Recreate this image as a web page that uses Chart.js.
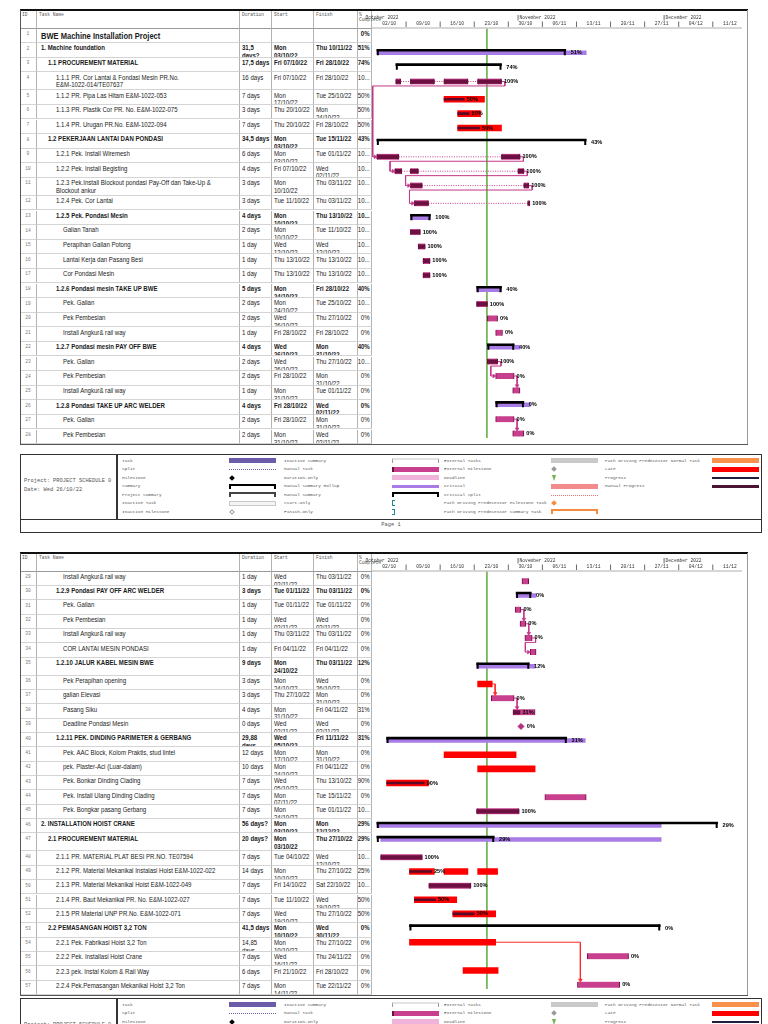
<!DOCTYPE html>
<html>
<head>
<meta charset="utf-8">
<title>BWE Machine Installation Project</title>
<script src="https://cdn.jsdelivr.net/npm/chart.js@4.4.1/dist/chart.umd.min.js"></script>
<style>
  html, body { margin: 0; padding: 0; background: #fff; }
  body { width: 768px; height: 1024px; overflow: hidden; position: relative; font-family: "Liberation Sans", Arial, sans-serif; }
  .a { position: absolute; box-sizing: border-box; }
  .cell { position: absolute; box-sizing: border-box; overflow: hidden; border-right: 1px solid #b4b4b4; border-bottom: 1px solid #d4d4d4; font-size: 7.4px; line-height: 7.8px; color: #1a1a1a; }
  .cell .in { position: absolute; top: 1.3px; transform: scaleX(0.82); transform-origin: 0 0; }
  .cell .in.r { transform-origin: 100% 0; text-align: right; white-space: nowrap; }
  .nw { white-space: nowrap; }
  .hd { font-family: "Liberation Mono", monospace; font-size: 4.6px; line-height: 5px; color: #555; border-bottom: 1px solid #999; padding: 1.5px 1px 0 2px; }
  .idc { font-family: "Liberation Mono", monospace; font-size: 4.6px; color: #777; text-align: center; padding-top: 1.5px; }
  .b { font-weight: bold; }
  .lg { position: absolute; font-family: "Liberation Mono", monospace; font-size: 4.4px; color: #555; white-space: nowrap; }
</style>
</head>
<body>
<script>
// task table (ID = position + 1)
var taskNames = [
  'BWE Machine Installation Project',
  '1. Machine foundation',
  '1.1 PROCUREMENT MATERIAL',
  '1.1.1 PR. Cor Lantai & Fondasi Mesin  PR.No. E&M-1022-014/TE07637',
  '1.1.2 PR. Pipa Las Hitam  E&M-1022-053',
  '1.1.3 PR. Plastik Cor PR. No. E&M-1022-075',
  '1.1.4 PR. Urugan PR.No. E&M-1022-094',
  '1.2 PEKERJAAN LANTAI DAN PONDASI',
  '1.2.1 Pek. Install Wiremesh',
  '1.2.2 Pek. Install Begisting',
  '1.2.3 Pek.Install Blockout pondasi  Pay-Off dan Take-Up & Blockout ankur',
  '1.2.4 Pek. Cor Lantai',
  '1.2.5 Pek. Pondasi Mesin',
  'Galian Tanah',
  'Perapihan Galian Potong',
  'Lantai Kerja dan Pasang Besi',
  'Cor Pondasi Mesin',
  '1.2.6 Pondasi mesin TAKE UP BWE',
  'Pek. Galian',
  'Pek Pembesian',
  'Install Angkur& rail way',
  '1.2.7 Pondasi mesin PAY OFF BWE',
  'Pek. Galian',
  'Pek Pembesian',
  'Install Angkur& rail way',
  '1.2.8 Pondasi TAKE UP ARC WELDER',
  'Pek. Galian',
  'Pek Pembesian',
  'Install Angkur& rail way',
  '1.2.9 Pondasi PAY OFF ARC WELDER',
  'Pek. Galian',
  'Pek Pembesian',
  'Install Angkur& rail way',
  'COR LANTAI MESIN PONDASI',
  '1.2.10 JALUR KABEL MESIN BWE',
  'Pek Perapihan opening',
  'galian Elevasi',
  'Pasang Siku',
  'Deadline Pondasi Mesin',
  '1.2.11 PEK. DINDING PARIMETER & GERBANG',
  'Pek. AAC Block, Kolom Praktis, stud lintel',
  'pek. Plaster-Aci (Luar-dalam)',
  'Pek. Bonkar Dinding Clading',
  'Pek. Install Ulang Dinding Clading',
  'Pek. Bongkar pasang Gerbang',
  '2. INSTALLATION HOIST CRANE',
  '2.1 PROCUREMENT MATERIAL',
  '2.1.1 PR. MATERIAL  PLAT BESI  PR.NO. TE07594',
  '2.1.2 PR. Material Mekanikal Instalasi Hoist E&M-1022-022',
  '2.1.3 PR. Material Mekanikal Hoist E&M-1022-049',
  '2.1.4 PR. Baut Mekanikal PR. No. E&M-1022-027',
  '2.1.5 PR Material UNP PR.No. E&M-1022-071',
  '2.2 PEMASANGAN HOIST 3,2 TON',
  '2.2.1 Pek. Fabrikasi Hoist 3,2 Ton',
  '2.2.2 Pek. Installasi Hoist Crane',
  '2.2.3 pek. Instal Kolom & Rail Way',
  '2.2.4 Pek.Pemasangan Mekanikal Hoist 3,2 Ton'
];
var outlineLevels = [0,1,2,3,3,3,3,2,3,3, 3,3,3,4,4,4,4,3,4,4, 4,3,4,4,4,3,4,4,4,3,
                     4,4,4,4,3,4,4,4,4,3, 4,4,4,4,4,1,2,3,3,3, 3,3,2,3,3,3,3];
var durations = ['', '31,5 days?', '17,5 days', '16 days', '7 days', '3 days', '7 days', '34,5 days', '6 days', '4 days',
  '3 days', '3 days', '4 days', '2 days', '1 day', '1 day', '1 day', '5 days', '2 days', '2 days',
  '1 day', '4 days', '2 days', '2 days', '1 day', '4 days', '2 days', '2 days', '1 day', '3 days',
  '1 day', '1 day', '1 day', '1 day', '9 days', '3 days', '3 days', '4 days', '0 days', '29,88 days',
  '12 days', '10 days', '7 days', '7 days', '7 days', '56 days?', '20 days?', '7 days', '14 days', '7 days',
  '7 days', '7 days', '41,5 days', '14,85 days', '7 days', '6 days', '7 days'];
var startDates = ['', 'Mon 03/10/22', 'Fri 07/10/22', 'Fri 07/10/22', 'Mon 17/10/22', 'Thu 20/10/22', 'Thu 20/10/22', 'Mon 03/10/22', 'Mon 03/10/22', 'Fri 07/10/22',
  'Mon 10/10/22', 'Tue 11/10/22', 'Mon 10/10/22', 'Mon 10/10/22', 'Wed 12/10/22', 'Thu 13/10/22', 'Thu 13/10/22', 'Mon 24/10/22', 'Mon 24/10/22', 'Wed 26/10/22',
  'Fri 28/10/22', 'Wed 26/10/22', 'Wed 26/10/22', 'Fri 28/10/22', 'Mon 31/10/22', 'Fri 28/10/22', 'Fri 28/10/22', 'Mon 31/10/22', 'Wed 02/11/22', 'Tue 01/11/22',
  'Tue 01/11/22', 'Wed 02/11/22', 'Thu 03/11/22', 'Fri 04/11/22', 'Mon 24/10/22', 'Mon 24/10/22', 'Thu 27/10/22', 'Mon 31/10/22', 'Wed 02/11/22', 'Wed 05/10/22',
  'Mon 17/10/22', 'Mon 24/10/22', 'Wed 05/10/22', 'Mon 07/11/22', 'Mon 24/10/22', 'Mon 03/10/22', 'Mon 03/10/22', 'Tue 04/10/22', 'Mon 10/10/22', 'Fri 14/10/22',
  'Tue 11/10/22', 'Wed 19/10/22', 'Mon 10/10/22', 'Mon 10/10/22', 'Wed 16/11/22', 'Fri 21/10/22', 'Mon 14/11/22'];
var finishDates = ['', 'Thu 10/11/22', 'Fri 28/10/22', 'Fri 28/10/22', 'Tue 25/10/22', 'Mon 24/10/22', 'Fri 28/10/22', 'Tue 15/11/22', 'Tue 01/11/22', 'Wed 02/11/22',
  'Thu 03/11/22', 'Thu 03/11/22', 'Thu 13/10/22', 'Tue 11/10/22', 'Wed 12/10/22', 'Thu 13/10/22', 'Thu 13/10/22', 'Fri 28/10/22', 'Tue 25/10/22', 'Thu 27/10/22',
  'Fri 28/10/22', 'Mon 31/10/22', 'Thu 27/10/22', 'Mon 31/10/22', 'Tue 01/11/22', 'Wed 02/11/22', 'Mon 31/10/22', 'Wed 02/11/22', 'Thu 03/11/22', 'Thu 03/11/22',
  'Tue 01/11/22', 'Wed 02/11/22', 'Thu 03/11/22', 'Fri 04/11/22', 'Thu 03/11/22', 'Wed 26/10/22', 'Mon 31/10/22', 'Fri 04/11/22', 'Wed 02/11/22', 'Fri 11/11/22',
  'Mon 31/10/22', 'Fri 04/11/22', 'Thu 13/10/22', 'Tue 15/11/22', 'Tue 01/11/22', 'Mon 12/12/22', 'Thu 27/10/22', 'Wed 12/10/22', 'Thu 27/10/22', 'Sat 22/10/22',
  'Wed 19/10/22', 'Thu 27/10/22', 'Wed 30/11/22', 'Thu 27/10/22', 'Thu 24/11/22', 'Fri 28/10/22', 'Tue 22/11/22'];
var percentComplete = ['0%', '51%', '74%', '10...', '50%', '50%', '50%', '43%', '10...', '10...',
  '10...', '10...', '10...', '10...', '10...', '10...', '10...', '40%', '10...', '0%',
  '0%', '40%', '10...', '0%', '0%', '0%', '0%', '0%', '0%', '0%',
  '0%', '0%', '0%', '0%', '12%', '0%', '0%', '31%', '0%', '31%',
  '0%', '0%', '90%', '0%', '10...', '29%', '29%', '10...', '25%', '10...',
  '50%', '50%', '0%', '0%', '0%', '0%', '0%'];
var boldTasks = [1, 2, 3, 8, 13, 18, 22, 26, 30, 35, 40, 46, 47, 53];
var tallRows = [4, 11, 35, 47];

// gantt bars, in days counted from Sun 02/10/22
var barKinds = ['none','sum','sum','task','late','late','late','sum','task','task',
  'task','task','sum','task','task','task','task','sum','task','task',
  'task','sum','task','task','task','sum','task','task','task','sum',
  'task','task','task','task','sum','late','task','task','ms','sum',
  'late','late','late','task','task','sum','sum','task','late','task',
  'late','late','sum','late','task','late','task'];
var barSpans = [
  [], [[1, 39.8]], [[4.9, 26.6]], [[4.9, 5.9], [7.9, 12.8], [14.8, 19.7], [21.7, 26.6]], [[14.8, 23.1]],
  [[17.6, 22.3]], [[17.6, 26.6]], [[1, 44]], [[1, 5.5], [26.6, 30.4]], [[4.7, 6.1], [7.9, 9.5], [30, 31.2]],
  [[7.9, 10.3], [31.2, 32.2]], [[8.7, 11.6], [32, 32.4]], [[7.9, 12]], [[7.9, 9.9]], [[9.5, 10.9]],
  [[10.5, 11.9]], [[10.5, 11.9]], [[21.5, 26.6]], [[21.5, 23.7]], [[23.7, 25.8]],
  [[25.4, 26.8]], [[23.7, 29.2]], [[23.7, 25.8]], [[25.4, 29.2]], [[28.9, 30.4]],
  [[25.4, 31.2]], [[25.4, 29.2]], [[28.9, 31.2]], [[30.8, 32.2]], [[29.6, 32.7]],
  [[29.4, 30.6]], [[30.4, 31.6]], [[31.4, 32.9]], [[32.5, 33.7]], [[21.5, 32.3]],
  [[21.7, 24.7]], [[24.5, 29.2]], [[29, 33.5]], [[30.6, 30.6]], [[3, 40]],
  [[14.8, 29.6]], [[21.7, 33.5]], [[3, 11.6]], [[35.5, 44]], [[21.5, 30.2]],
  [[1, 71]], [[1, 25.1]], [[1.8, 10.3]], [[7.7, 12.8], [14.8, 19.7], [21.7, 25.8]], [[11.7, 20.3]],
  [[8.7, 17.4]], [[16.6, 25.4]], [[7.7, 59.2]], [[7.7, 25.4]], [[44.2, 52.7]],
  [[18.7, 25.9]], [[42.2, 50.9]]
];
var rollupSpans = [
  null, [1, 44], null, null, null, null, null, null, null, null,
  null, null, [7.9, 12], null, null, null, null, [21.5, 26.6], null, null,
  null, [23.7, 30.4], null, null, null, [25.4, 32.5], null, null, null, [29.6, 33.7],
  null, null, null, null, [21.5, 33.5], null, null, null, null, [3, 43.8],
  null, null, null, null, null, [1, 59.4], [1.8, 59.4], null, null, null,
  null, null, null, null, null, null, null
];
var barLabels = ['', '51%', '74%', '100%', '50%', '50%', '50%', '43%', '100%', '100%',
  '100%', '100%', '100%', '100%', '100%', '100%', '100%', '40%', '100%', '0%',
  '0%', '40%', '100%', '0%', '', '0%', '0%', '0%', '', '0%',
  '0%', '0%', '0%', '', '12%', '', '0%', '31%', '0%', '31%',
  '', '', '90%', '', '100%', '29%', '29%', '100%', '25%', '100%',
  '50%', '50%', '0%', '', '0%', '', '0%'];
var taskLinks = [[4, 9], [9, 10], [10, 11], [11, 12], [23, 24], [24, 25], [27, 28],
  [31, 32], [32, 33], [33, 34], [36, 37], [37, 38], [54, 57]];

// timescale
var weekStartDays = [0, 7, 14, 21, 28, 35, 42, 49, 56, 63, 70];
var weekLabels = ['02/10', '09/10', '16/10', '23/10', '30/10', '06/11', '13/11', '20/11', '27/11', '04/12', '11/12'];
var monthStartDays = [-1, 30, 60];
var monthLabels = ['October 2022', 'November 2022', 'December 2022'];
var statusDay = 23.6;

var pages = [
  { first: 1, last: 28, top: 10, rowH: 14.6, legendTop: 454, label: 'Page 1' },
  { first: 29, last: 57, top: 553, rowH: 14.35, legendTop: 998, label: 'Page 2' }
];

var COLS = [{ x: 20, w: 17 }, { x: 37, w: 203 }, { x: 240, w: 32 }, { x: 272, w: 42 }, { x: 314, w: 44 }, { x: 358, w: 14 }];
var HEADER_H = 18.5, TALL_H = 18, BAR_OFF = 10, SQUEEZE = 0.82;
var INDENT = [4, 4, 11, 19, 26];
var MAGENTA = '#c8408d', DARK = '#6c0f41', LINK = '#c4378a';

function addDiv(cls, css, html, parent) {
  var d = document.createElement('div');
  d.className = cls;
  d.style.cssText = css;
  if (html != null) d.innerHTML = html;
  (parent || document.body).appendChild(d);
  return d;
}
function esc(s) { return s.replace(/&/g, '&amp;').replace(/</g, '&lt;'); }
function nameHtml(s) {
  // keep hyphenated codes in one piece, as the printed table does
  return s.split(' ').map(function (w) { return w.indexOf('-') >= 0 ? '<span class="nw">' + esc(w) + '</span>' : esc(w); }).join(' ');
}
function dateHtml(s) { return /^(Mon|Wed) /.test(s) ? s.replace(' ', '<br>') : s; }
function durHtml(s) { return s.length >= 10 ? s.replace(' ', '<br>') : s; }
function pctValue(i) { var t = percentComplete[i]; return t.indexOf('...') > 0 ? 100 : parseFloat(t); }
function isTall(id) { return tallRows.indexOf(id) >= 0; }

function buildTable(pg) {
  var hd = ['ID', 'Task Name', 'Duration', 'Start', 'Finish', '%<br>Complete'];
  COLS.forEach(function (c, k) {
    addDiv('cell hd', 'left:' + c.x + 'px;top:' + pg.top + 'px;width:' + c.w + 'px;height:' + HEADER_H + 'px;' +
      (k == 5 ? 'overflow:visible;padding-left:1px;' : ''), hd[k]);
  });
  var y = pg.top + HEADER_H;
  for (var id = pg.first; id <= pg.last; id++) {
    var i = id - 1;
    var h = isTall(id) ? TALL_H : pg.rowH;
    var bold = boldTasks.indexOf(id) >= 0 ? ' b' : '';
    var vals = [String(id), nameHtml(taskNames[i]), durHtml(durations[i]), dateHtml(startDates[i]), dateHtml(finishDates[i]), percentComplete[i]];
    for (var k = 0; k < COLS.length; k++) {
      var c = COLS[k];
      var css = 'left:' + c.x + 'px;top:' + y + 'px;width:' + c.w + 'px;height:' + h + 'px;';
      if (k == 0) { addDiv('cell idc', css, vals[k]); continue; }
      var cell = addDiv('cell' + bold, css);
      if (k == 5) {
        addDiv('in r', 'right:1.5px;width:' + ((c.w - 2) / SQUEEZE) + 'px;', vals[k], cell);
      } else {
        var pad = k == 1 ? INDENT[outlineLevels[i]] : 2;
        var padR = k == 1 ? 14 : 2;
        var inCss = 'left:' + pad + 'px;width:' + ((c.w - pad - padR) / SQUEEZE) + 'px;';
        if (k > 1 && vals[k].indexOf('<br>') < 0) inCss += 'white-space:nowrap;';
        if (id == 1 && k == 1) inCss += 'font-size:9.2px;line-height:10px;top:2px;white-space:nowrap;';
        addDiv('in', inCss, vals[k], cell);
      }
    }
    y += h;
  }
  // frame
  addDiv('a', 'left:20px;top:' + (pg.top - 1) + 'px;width:728px;height:2px;background:#111;');
  addDiv('a', 'left:20px;top:' + pg.top + 'px;width:1px;height:' + (y - pg.top) + 'px;background:#555;');
  addDiv('a', 'left:747px;top:' + pg.top + 'px;width:1px;height:' + (y - pg.top) + 'px;background:#999;');
  addDiv('a', 'left:20px;top:' + y + 'px;width:728px;height:1.2px;background:#555;');
  return y;
}

function legendSymbol(kind, color, x, cy) {
  var w = 47, left = x, s;
  if (kind == 'bar') s = 'top:' + (cy - 2.5) + 'px;width:' + w + 'px;height:5px;background:' + color + ';';
  else if (kind == 'mbar') s = 'top:' + (cy - 2.5) + 'px;width:' + w + 'px;height:5px;background:' + color + ';border-left:2px solid ' + DARK + ';';
  else if (kind == 'obar') s = 'top:' + (cy - 2.5) + 'px;width:' + w + 'px;height:5px;background:#f4f4f4;border:1px solid #c8c8c8;';
  else if (kind == 'thin') s = 'top:' + (cy - 1.5) + 'px;width:' + w + 'px;height:3px;background:' + color + ';';
  else if (kind == 'line') s = 'top:' + (cy - 1) + 'px;width:' + w + 'px;height:2.5px;background:' + color + ';';
  else if (kind == 'dots') s = 'top:' + cy + 'px;width:' + w + 'px;height:0;border-top:1.5px dotted ' + color + ';';
  else if (kind == 'bracket') s = 'top:' + (cy - 2.5) + 'px;width:' + w + 'px;height:5px;border:2px solid ' + color + ';border-bottom:0;';
  else if (kind == 'ibracket') s = 'top:' + (cy - 2.5) + 'px;width:' + w + 'px;height:5px;border:1.5px solid #999;border-bottom:0;border-top:2.5px solid #e4e4e4;';
  else if (kind == 'diamond') { left = x + 1; s = 'top:' + (cy - 2) + 'px;width:4px;height:4px;background:' + color + ';transform:rotate(45deg);'; }
  else if (kind == 'odiamond') { left = x + 1; s = 'top:' + (cy - 2) + 'px;width:4px;height:4px;border:0.8px solid ' + color + ';transform:rotate(45deg);'; }
  else if (kind == 'start') s = 'top:' + (cy - 3) + 'px;width:3px;height:6px;border:1.5px solid ' + color + ';border-right:0;';
  else if (kind == 'finish') s = 'top:' + (cy - 3) + 'px;width:3px;height:6px;border:1.5px solid ' + color + ';border-left:0;';
  else if (kind == 'arrow') { left = x + 1; s = 'top:' + (cy - 3) + 'px;width:0;height:0;border-left:2.5px solid transparent;border-right:2.5px solid transparent;border-top:6px solid ' + color + ';'; }
  addDiv('a', 'left:' + left + 'px;' + s);
}

function buildLegend(top, pageLabel) {
  var cols = [
    [['Task', 'bar', '#6b5ba9'], ['Split', 'dots', '#6b5ba9'], ['Milestone', 'diamond', '#000'], ['Summary', 'bracket', '#000'],
     ['Project Summary', 'bracket', '#444'], ['Inactive Task', 'obar', ''], ['Inactive Milestone', 'odiamond', '#999']],
    [['Inactive Summary', 'ibracket', ''], ['Manual Task', 'mbar', MAGENTA], ['Duration-only', 'bar', '#f0b3d9'], ['Manual Summary Rollup', 'thin', '#a97be6'],
     ['Manual Summary', 'bracket', '#000'], ['Start-only', 'start', '#178c9a'], ['Finish-only', 'finish', '#178c9a']],
    [['External Tasks', 'bar', '#c9c9c9'], ['External Milestone', 'diamond', '#9a9a9a'], ['Deadline', 'arrow', '#6fb24f'], ['Critical', 'bar', '#f28b8b'],
     ['Critical Split', 'dots', '#e87777'], ['Path Driving Predecessor Milestone Task', 'diamond', '#f58b3c'], ['Path Driving Predecessor Summary Task', 'bracket', '#f58b3c']],
    [['Path Driving Predecessor Normal Task', 'bar', '#f8914b'], ['Late', 'bar', '#ff0000'], ['Progress', 'line', '#1e1f3e'], ['Manual Progress', 'line', '#4b1432']]
  ];
  var legX = [[122, 229], [284, 392], [444, 551], [605, 712]];
  addDiv('a', 'left:20px;top:' + top + 'px;width:742px;height:66px;border:1.5px solid #333;');
  addDiv('a', 'left:116px;top:' + top + 'px;width:1.5px;height:66px;background:#333;');
  addDiv('lg', 'left:24px;top:' + (top + 23) + 'px;font-size:5.4px;line-height:9px;', 'Project: PROJECT SCHEDULE 0<br>Date: Wed 26/10/22');
  cols.forEach(function (col, c) {
    col.forEach(function (it, r) {
      var cy = top + 6.5 + r * 8.5;
      addDiv('lg', 'left:' + legX[c][0] + 'px;top:' + (cy - 3) + 'px;line-height:6px;', it[0]);
      legendSymbol(it[1], it[2], legX[c][1], cy);
    });
  });
  addDiv('a', 'left:20px;top:' + (top + 64.5) + 'px;width:742px;height:14.5px;border:1.5px solid #333;');
  addDiv('lg', 'left:20px;top:' + (top + 65) + 'px;width:742px;line-height:13px;text-align:center;font-size:5.4px;', pageLabel);
}

function buildChart(pg) {
  var ids = [], tops = {}, y = 0;
  for (var id = pg.first; id <= pg.last; id++) { ids.push(id); tops[id] = y; y += isTall(id) ? TALL_H : pg.rowH; }
  var canvas = document.createElement('canvas');
  canvas.width = 392;
  canvas.height = Math.round(HEADER_H + y);
  canvas.style.cssText = 'position:absolute;left:356px;top:' + pg.top + 'px;width:392px;height:' + canvas.height + 'px;';
  document.body.appendChild(canvas);
  var yMax = canvas.height - HEADER_H;
  function cy(id) { return tops[id] + BAR_OFF; }
  function firstStart(id) { return barSpans[id - 1][0][0]; }
  function lastEnd(id) { var s = barSpans[id - 1]; return s[s.length - 1][1]; }

  var rollup = [], bracket = [], caps = [], tasks = [], taskProg = [], late = [], lateProg = [], miles = [], labels = [];
  var extra = [], arrowsDown = [], arrowsRight = [], arrowDownCol = [], arrowRightCol = [];

  ids.forEach(function (id) {
    var i = id - 1, kind = barKinds[i], spans = barSpans[i], c = cy(id);
    if (!spans.length) return;
    var s0 = spans[0][0], e1 = spans[spans.length - 1][1];
    var pct = pctValue(i);
    var pEnd = s0 + (e1 - s0) * pct / 100;
    var labelDay;
    if (kind == 'sum') {
      bracket.push({ x: [s0, e1], y: c - 2.5 });
      caps.push({ x: s0 + 0.2, y: c - 0.5 }, { x: e1 - 0.2, y: c - 0.5 });
      if (rollupSpans[i]) rollup.push({ x: rollupSpans[i], y: c });
      labelDay = e1 + 1;
    } else if (kind == 'ms') {
      miles.push({ x: s0, y: c });
      labelDay = s0 + 1.2;
    } else {
      var main = kind == 'late' ? late : tasks;
      var prog = kind == 'late' ? lateProg : taskProg;
      spans.forEach(function (sp, k) {
        main.push({ x: sp, y: c });
        if (pct > 0 && sp[0] < pEnd) prog.push({ x: [sp[0], Math.min(sp[1], pEnd)], y: c });
        if (k > 0 && kind == 'task') {
          extra.push({ type: 'line', data: [{ x: spans[k - 1][1], y: c }, { x: sp[0], y: c }], borderColor: MAGENTA,
            borderWidth: 1, borderDash: [1, 1.4], pointRadius: 0, order: 8 });
        }
      });
      labelDay = (pct > 0 ? pEnd : e1) + 0.5;
    }
    if (barLabels[i]) labels.push({ x: labelDay, y: c, t: barLabels[i] });
  });

  taskLinks.forEach(function (lk) {
    var p = lk[0], s = lk[1];
    if (!(p in tops) || !(s in tops)) return;
    var pe = lastEnd(p), ss = firstStart(s), yp = cy(p), ys = cy(s);
    var col = barKinds[p - 1] == 'late' ? '#ff2a2a' : LINK;
    var pts;
    if (ss >= pe - 0.3) {
      var xv = Math.max(pe, ss) + 0.6;
      pts = [{ x: pe, y: yp }, { x: xv, y: yp }, { x: xv, y: ys - 5 }];
      arrowsDown.push({ x: xv, y: ys - 4.6 }); arrowDownCol.push(col);
    } else {
      var yb = yp + 4.5, xb = Math.max(ss - 1, 0.15);
      pts = [{ x: pe, y: yp }, { x: pe + 0.7, y: yp }, { x: pe + 0.7, y: yb }, { x: xb, y: yb }, { x: xb, y: ys }, { x: ss - 0.4, y: ys }];
      arrowsRight.push({ x: ss - 0.35, y: ys }); arrowRightCol.push(col);
    }
    extra.push({ type: 'line', data: pts, borderColor: col, borderWidth: 1, pointRadius: 0, order: 9 });
  });

  function barDs(data, color, thick, order, more) {
    var d = { type: 'bar', indexAxis: 'y', grouped: false, data: data, backgroundColor: color, barThickness: thick,
      order: order, borderWidth: 0, borderSkipped: false };
    for (var k in (more || {})) d[k] = more[k];
    return d;
  }
  var datasets = [
    { type: 'line', data: [{ x: statusDay, y: 0 }, { x: statusDay, y: yMax }], borderColor: '#72b454', borderWidth: 1, pointRadius: 0, order: 20 },
    barDs(rollup, '#a97be6', 3.8, 7),
    barDs(bracket, '#000', 2, 6),
    { type: 'scatter', data: caps, pointStyle: 'line', pointRotation: 90, pointRadius: 3, pointBorderColor: '#000', pointBorderWidth: 2, order: 5 },
    barDs(tasks, MAGENTA, 6, 4, { borderColor: DARK, borderWidth: { left: 1, right: 1, top: 0, bottom: 0 } }),
    barDs(late, '#ff0000', 6, 4),
    barDs(taskProg, DARK, 3.6, 2),
    barDs(lateProg, '#5a0a26', 2, 2),
    { type: 'scatter', data: miles, pointStyle: 'rectRot', pointRadius: 3, pointBackgroundColor: '#b3317e', pointBorderColor: '#b3317e', order: 1 },
    { type: 'scatter', data: arrowsDown, pointStyle: 'triangle', pointRotation: 180, pointRadius: 2.2, pointBackgroundColor: arrowDownCol, pointBorderColor: arrowDownCol, pointBorderWidth: 0.5, order: 0 },
    { type: 'scatter', data: arrowsRight, pointStyle: 'triangle', pointRotation: 90, pointRadius: 2.2, pointBackgroundColor: arrowRightCol, pointBorderColor: arrowRightCol, pointBorderWidth: 0.5, order: 0 }
  ].concat(extra);

  var decor = {
    id: 'decor',
    afterDatasetsDraw: function (chart) {
      var ctx = chart.ctx, xs = chart.scales.x, ysc = chart.scales.y;
      ctx.save();
      ctx.font = 'bold 5.6px "Liberation Sans", sans-serif';
      ctx.fillStyle = '#000';
      ctx.textBaseline = 'middle';
      labels.forEach(function (l) { ctx.fillText(l.t, xs.getPixelForValue(l.x), ysc.getPixelForValue(l.y)); });
      ctx.restore();
    },
    afterDraw: function (chart) {
      var ctx = chart.ctx, xs = chart.scales.x, area = chart.chartArea;
      ctx.save();
      ctx.font = '4.6px "Liberation Mono", monospace';
      ctx.fillStyle = '#333';
      ctx.strokeStyle = '#444';
      ctx.lineWidth = 0.8;
      ctx.textBaseline = 'middle';
      monthLabels.forEach(function (m, k) {
        var d = monthStartDays[k];
        var x = d < 0 ? area.left - 8 : xs.getPixelForValue(d);
        if (d >= 0) { ctx.beginPath(); ctx.moveTo(x, 5); ctx.lineTo(x, 10.5); ctx.stroke(); }
        ctx.textAlign = 'left';
        ctx.fillText(m, x + 1.5, 8);
      });
      weekLabels.forEach(function (w, k) {
        var d = weekStartDays[k];
        ctx.textAlign = 'center';
        ctx.fillText(w, xs.getPixelForValue(d + 3.5), 13.6);
        if (k > 0) {
          var x = xs.getPixelForValue(d);
          ctx.beginPath(); ctx.moveTo(x, 11.5); ctx.lineTo(x, 17); ctx.stroke();
        }
      });
      ctx.strokeStyle = '#999';
      ctx.beginPath(); ctx.moveTo(area.left, HEADER_H - 0.5); ctx.lineTo(area.right, HEADER_H - 0.5); ctx.stroke();
      ctx.restore();
    }
  };

  new Chart(canvas, {
    type: 'bar',
    data: { datasets: datasets },
    options: {
      responsive: false,
      maintainAspectRatio: false,
      animation: false,
      events: [],
      layout: { padding: { top: HEADER_H, left: 16, right: 0, bottom: 0 } },
      plugins: { legend: { display: false }, tooltip: { enabled: false } },
      scales: {
        x: { type: 'linear', min: 0, max: 76, offset: false, display: false },
        y: { type: 'linear', min: 0, max: yMax, reverse: true, offset: false, display: false }
      }
    },
    plugins: [decor]
  });
}

pages.forEach(function (pg) {
  buildTable(pg);
  buildChart(pg);
  buildLegend(pg.legendTop, pg.label);
});
</script>
</body>
</html>
